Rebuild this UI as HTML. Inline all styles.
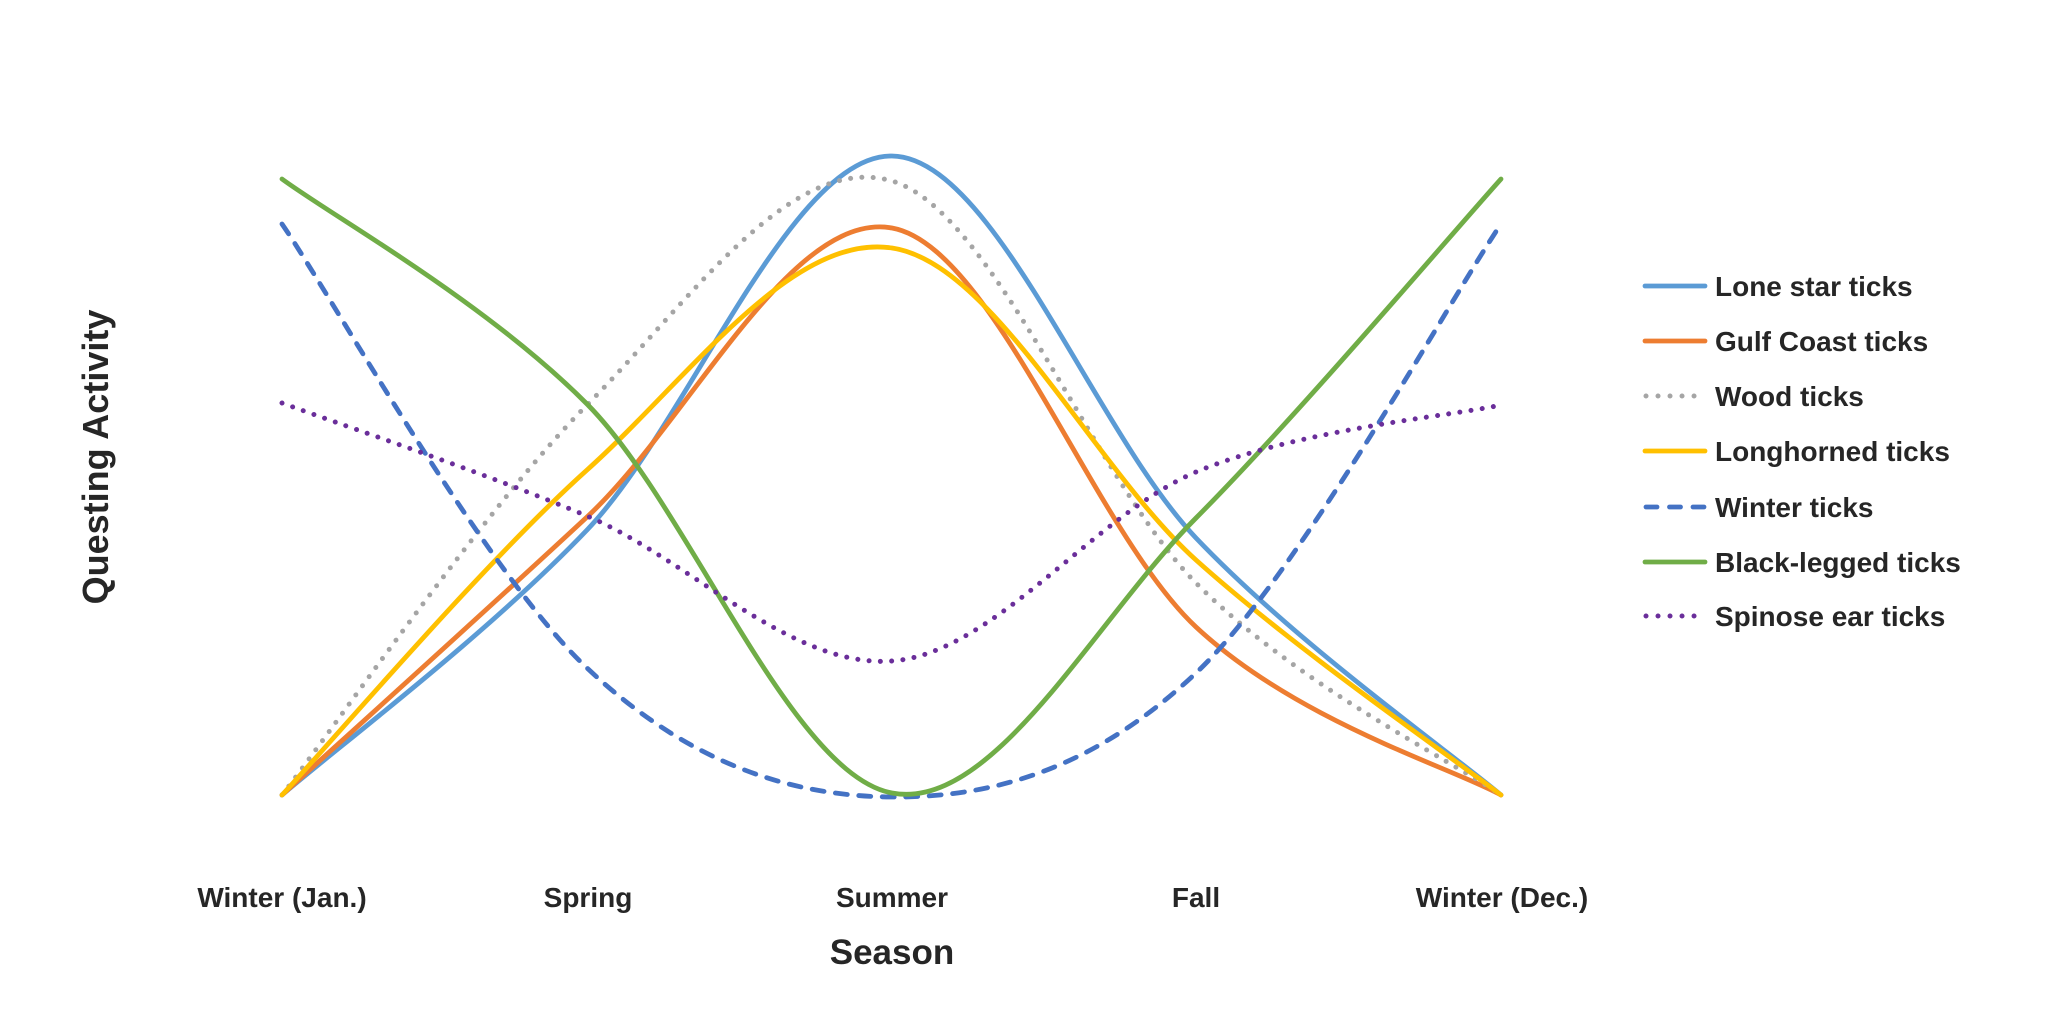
<!DOCTYPE html>
<html>
<head>
<meta charset="utf-8">
<style>
  html, body { margin:0; padding:0; background:#ffffff; }
  svg { display:block; }
  text { font-family: "Liberation Sans", Arial, sans-serif; font-weight: bold; fill:#262626; }
</style>
</head>
<body>
<svg width="2048" height="1032" viewBox="0 0 2048 1032" xmlns="http://www.w3.org/2000/svg">
  <rect x="0" y="0" width="2048" height="1032" fill="#ffffff"/>

  <g fill="none" stroke-width="4.8" stroke-linecap="round" stroke-linejoin="round">
    <!-- Lone star ticks -->
    <path stroke="#5B9BD5" d="M282,795 C332.8,750.8 485.3,636.5 587,530 C688.7,423.5 790.5,154.7 892,156 C993.5,157.3 1094.5,431.5 1196,538 C1297.5,644.5 1450.2,752.2 1501,795"/>
    <!-- Gulf Coast ticks -->
    <path stroke="#ED7D31" d="M282,795 C332.8,748.7 485.3,611.5 587,517 C688.7,422.5 790.5,209.7 892,228 C993.5,246.3 1094.5,532.5 1196,627 C1297.5,721.5 1450.2,767 1501,795"/>
    <!-- Wood ticks -->
    <path stroke="#A5A5A5" stroke-width="5" stroke-dasharray="0.01 11.3" d="M282,795 C332.8,730 485.3,507.3 587,405 C688.7,302.7 790.5,151.3 892,181 C993.5,210.7 1094.5,480.7 1196,583 C1297.5,685.3 1450.2,759.7 1501,795"/>
    <!-- Longhorned ticks -->
    <path stroke="#FFC000" d="M282,795 C332.8,740.8 485.3,561.2 587,470 C688.7,378.8 790.5,233 892,248 C993.5,263 1094.5,468.8 1196,560 C1297.5,651.2 1450.2,755.8 1501,795"/>
    <!-- Winter ticks -->
    <path stroke="#4472C4" stroke-dasharray="12 11.5" d="M282,224 C332.8,298 485.3,572.5 587,668 C688.7,763.5 790.5,796.2 892,797 C993.5,797.8 1094.5,768.5 1196,673 C1297.5,577.5 1450.2,298.8 1501,224"/>
    <!-- Black-legged ticks -->
    <path stroke="#70AD47" d="M282,179 C332.8,216.5 485.3,301.7 587,404 C688.7,506.3 790.5,774 892,793 C993.5,812 1094.5,620.3 1196,518 C1297.5,415.7 1450.2,235.5 1501,179"/>
    <!-- Spinose ear ticks -->
    <path stroke="#6A2E9A" stroke-width="5" stroke-dasharray="0.01 11.3" d="M282,403 C332.8,421.8 485.3,473 587,516 C688.7,559 790.5,668.3 892,661 C993.5,653.7 1094.5,514.7 1196,472 C1297.5,429.3 1450.2,416.2 1501,405"/>
  </g>

  <!-- Legend -->
  <g fill="none" stroke-width="4.8" stroke-linecap="round">
    <line x1="1645" y1="286" x2="1705" y2="286" stroke="#5B9BD5"/>
    <line x1="1645" y1="341" x2="1705" y2="341" stroke="#ED7D31"/>
    <line x1="1646" y1="396" x2="1706" y2="396" stroke="#A5A5A5" stroke-width="5" stroke-dasharray="0.01 12"/>
    <line x1="1645" y1="451" x2="1705" y2="451" stroke="#FFC000"/>
    <line x1="1646" y1="507" x2="1705" y2="507" stroke="#4472C4" stroke-dasharray="11 12.5"/>
    <line x1="1645" y1="562" x2="1705" y2="562" stroke="#70AD47"/>
    <line x1="1646" y1="616" x2="1706" y2="616" stroke="#6A2E9A" stroke-width="5" stroke-dasharray="0.01 12"/>
  </g>
  <g font-size="28">
    <text x="1715" y="296">Lone star ticks</text>
    <text x="1715" y="351">Gulf Coast ticks</text>
    <text x="1715" y="406">Wood ticks</text>
    <text x="1715" y="461">Longhorned ticks</text>
    <text x="1715" y="517">Winter ticks</text>
    <text x="1715" y="572">Black-legged ticks</text>
    <text x="1715" y="626">Spinose ear ticks</text>
  </g>

  <!-- Category labels -->
  <g font-size="28" text-anchor="middle">
    <text x="282" y="907">Winter (Jan.)</text>
    <text x="588" y="907">Spring</text>
    <text x="892" y="907">Summer</text>
    <text x="1196" y="907">Fall</text>
    <text x="1502" y="907">Winter (Dec.)</text>
  </g>

  <!-- Axis titles -->
  <text x="892" y="964" font-size="35" text-anchor="middle">Season</text>
  <text x="0" y="0" font-size="36" text-anchor="middle" transform="translate(108,457) rotate(-90)">Questing Activity</text>
</svg>
</body>
</html>
